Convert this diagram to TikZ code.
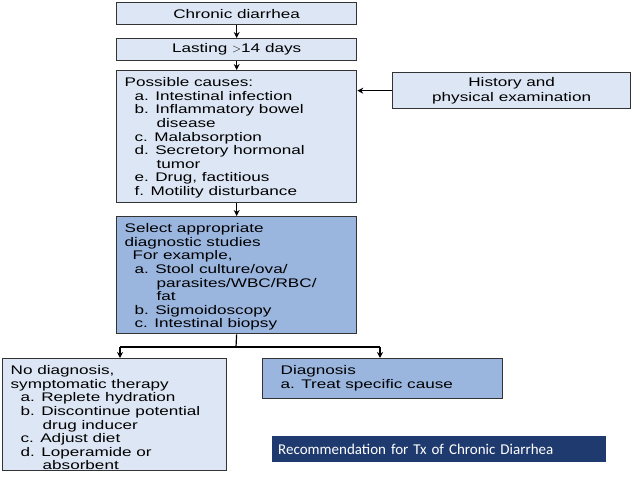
\documentclass[tikz,border=0pt]{standalone}
\usepackage{fontspec}
\setmainfont{Liberation Sans}[FakeStretch=1.37]
\newfontfamily\calib{Carlito}
\usetikzlibrary{arrows.meta}
\definecolor{lightb}{HTML}{DDE6F4}
\definecolor{darkb}{HTML}{9AB5DE}
\definecolor{navy}{HTML}{1F3A6E}
\definecolor{bord}{HTML}{333333}
\newcommand{\ia}{\hspace*{10pt}}
\newcommand{\ib}{\hspace*{32pt}}
\newcommand{\bx}[3]{\parbox[t][#1][t]{#2}{\raggedright\fontsize{12.5}{13.6}\selectfont #3}}
\begin{document}
\begin{tikzpicture}[x=1pt,y=-1pt,
  box/.style={draw=bord,line width=1.3pt,anchor=north west,inner xsep=8pt,inner ysep=7pt},
  cbox/.style={draw=bord,line width=1.3pt,anchor=north west,align=center,font=\fontsize{12.5}{14.5}\selectfont,inner sep=0pt},
  arr/.style={line width=1.2pt,-{Stealth[length=6pt,width=6pt]}}]
\useasboundingbox (0,0) rectangle (638,478);
\fill[white] (0,0) rectangle (638,478);
\node[cbox,fill=lightb,minimum width=240pt,minimum height=22pt] (c) at (116,2) {Chronic diarrhea};
\node[cbox,fill=lightb,minimum width=240pt,minimum height=22pt] (l) at (116,38) {Lasting $>$14 days};
\node[box,fill=lightb] (p) at (116,70) {\bx{118pt}{224pt}{Possible causes:\\
\ia a. Intestinal infection\\
\ia b. Inflammatory bowel\\
\ib disease\\
\ia c. Malabsorption\\
\ia d. Secretory hormonal\\
\ib tumor\\
\ia e. Drug, factitious\\
\ia f. Motility disturbance}};
\node[cbox,fill=lightb,minimum width=238pt,minimum height=36pt] (h) at (392,72) {History and\\physical examination};
\node[box,fill=darkb] (s) at (116,216) {\bx{103pt}{224pt}{Select appropriate\\
diagnostic studies\\
\hspace*{8pt}For example,\\
\ia a. Stool culture/ova/\\
\ib parasites/WBC/RBC/\\
\ib fat\\
\ia b. Sigmoidoscopy\\
\ia c. Intestinal biopsy}};
\node[box,fill=lightb] (n) at (2,358) {\bx{98pt}{208pt}{No diagnosis,\\
symptomatic therapy\\
\ia a. Replete hydration\\
\ia b. Discontinue potential\\
\ib drug inducer\\
\ia c. Adjust diet\\
\ia d. Loperamide or\\
\ib absorbent}};
\node[box,fill=darkb] (d) at (262,358) {\bx{26pt}{224pt}{\hspace*{10pt}Diagnosis\\
\ia a. Treat specific cause}};
\node[draw=none,fill=navy,text=white,anchor=north west,minimum width=334pt,minimum height=26pt,inner xsep=6pt,align=left,text width=322pt,font=\calib\fontsize{15}{17}\selectfont] (r) at (272,436) {Recommendation for Tx of Chronic Diarrhea};
\draw[arr] (c.south) -- (l.north);
\draw[arr] (l.south) -- (p.north);
\draw[arr] (p.south) -- (s.north);
\draw[arr] (h.west) -- (h.west -| p.east);
\coordinate (j) at (236,347);
\coordinate (jl) at (120,347);
\coordinate (jr) at (380,347);
\draw[line width=1.2pt] (s.south) -- (j);
\draw[line width=1.2pt] (jl) -- (jr);
\draw[arr] (jl) -- (jl |- n.north);
\draw[arr] (jr) -- (jr |- d.north);
\end{tikzpicture}
\end{document}
